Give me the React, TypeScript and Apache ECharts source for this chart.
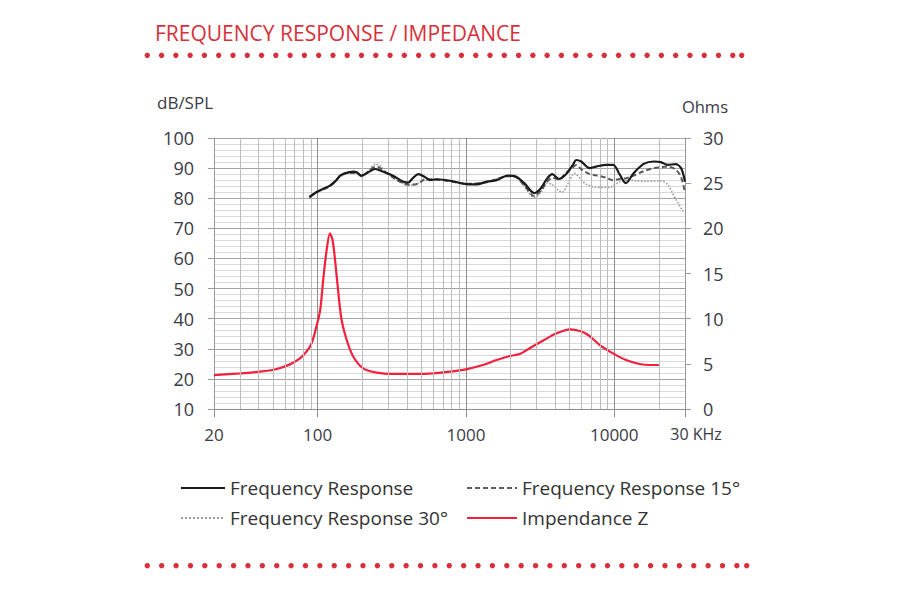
import React, { useEffect, useRef } from 'react';
import * as echarts from 'echarts';

const TITLE = 'FREQUENCY RESPONSE / IMPEDANCE';
const LEFT_AXIS_NAME = 'dB/SPL';
const RIGHT_AXIS_NAME = 'Ohms';
const NAME_FR = 'Frequency Response';
const NAME_FR15 = 'Frequency Response 15°';
const NAME_FR30 = 'Frequency Response 30°';
const NAME_Z = 'Impendance Z';

// Frequency response (on-axis)
const FR_FREQ = [88, 98, 106, 121, 134, 141, 153, 161, 174, 183, 198, 219, 244, 277, 324, 378, 408, 441, 477, 530, 572, 633, 780, 1010, 1180, 1380, 1610, 1910, 2170, 2470, 2890, 3200, 3530, 3820, 4230, 4690, 5270, 5540, 5990, 6820, 7540, 8840, 9830, 10900, 11950, 13500, 15800, 18500, 20600, 22900, 26000, 28200, 30000];
const FR_DB = [80.3, 82, 82.8, 84.2, 86, 87.4, 88.3, 88.6, 88.8, 88.6, 87.5, 88.6, 89.7, 88.8, 87.4, 85.5, 85.2, 86.8, 88, 87, 86, 86.3, 85.8, 84.7, 84.6, 85.5, 86, 87.5, 87.2, 85, 81.7, 83.3, 86.6, 88, 86.4, 87.8, 91.1, 92.7, 92.2, 90, 90.5, 91.1, 91.1, 87.8, 85, 88.3, 91.4, 92.2, 92, 91.1, 91.3, 90, 85.5];

// Frequency response 15°
const FR15_FREQ = [88, 98, 121, 141, 161, 183, 198, 219, 244, 260, 290, 330, 378, 408, 457, 492, 530, 633, 780, 1010, 1380, 1910, 2170, 2470, 2890, 3200, 3530, 3820, 4230, 4690, 5270, 5540, 5990, 6820, 7540, 8840, 9830, 10900, 11950, 13500, 15800, 18500, 20600, 22900, 26000, 28200, 30000];
const FR15_DB = [80.5, 82, 84, 87.2, 88.4, 88.4, 87.3, 88.8, 90.5, 90.2, 88.5, 86.5, 85, 84.5, 84.6, 85.3, 86.3, 86.2, 85.6, 84.8, 85.3, 87.3, 87, 84.3, 80.7, 82.5, 85.5, 86.8, 86.2, 88.2, 90.3, 91, 89.6, 88, 87.6, 86.8, 86, 86.4, 86.6, 87.5, 89, 90, 90.3, 90.5, 89.5, 87, 82];

// Frequency response 30°
const FR30_FREQ = [88, 98, 121, 141, 161, 183, 198, 219, 244, 260, 290, 330, 378, 408, 457, 530, 633, 780, 1010, 1380, 1910, 2170, 2470, 2890, 3200, 3530, 3820, 4230, 4450, 4900, 5400, 5900, 6440, 7200, 8000, 9330, 10900, 12500, 14000, 16300, 20600, 23000, 24500, 26200, 29000, 30000];
const FR30_DB = [80.5, 82, 84, 87, 88.3, 88.3, 87.3, 89, 91.3, 91, 88.5, 86.5, 84.8, 84.3, 84.6, 86, 86, 85.6, 84.8, 85.3, 87.3, 87, 84, 80.2, 82, 85, 84.5, 82.5, 82, 85, 88.3, 86.5, 84.7, 83.8, 83.6, 83.6, 85.5, 86, 85.8, 85.6, 85.8, 84.5, 82, 79.4, 75.8, 75];

// Impedance (ohms)
const Z_FREQ = [20, 30, 41, 53, 65, 76, 84, 91, 98, 104, 109, 115, 121, 126, 131, 138, 145, 157, 174, 203, 250, 324, 465, 602, 780, 1000, 1300, 1610, 1980, 2300, 2690, 3300, 4090, 5020, 5860, 6670, 8000, 9800, 12000, 14800, 17400, 20000];
const Z_OHM = [3.76, 3.95, 4.13, 4.43, 4.94, 5.6, 6.35, 7.27, 9.1, 10.96, 14.3, 17.6, 19.45, 18.7, 16.5, 12.8, 9.85, 7.64, 5.79, 4.5, 4.02, 3.88, 3.88, 3.95, 4.13, 4.39, 4.87, 5.42, 5.87, 6.09, 6.72, 7.56, 8.38, 8.82, 8.63, 8.19, 7.08, 6.16, 5.42, 4.98, 4.87, 4.87];

const FONT = "'Open Sans', 'Noto Sans', sans-serif";
const TEXT_COLOR = '#3a3a46';
const RED = '#d8303a';

function pairs(xs: number[], ys: number[]) {
  return xs.map((x, i) => [x, ys[i]]);
}

function minorFreqs() {
  const out: number[] = [];
  for (let d = 10; d <= 10000; d *= 10) {
    for (let k = 2; k <= 9; k++) {
      const v = k * d;
      if (v > 20 && v < 30000) out.push(v);
    }
  }
  return out;
}

function dotRow(y: number, x0: number, step: number, n: number, extra: number) {
  const els: any[] = [];
  for (let i = 0; i < n; i++) {
    els.push({ type: 'circle', shape: { cx: x0 + i * step, cy: y, r: 2.7 }, style: { fill: RED }, silent: true });
  }
  els.push({ type: 'circle', shape: { cx: extra, cy: y, r: 2.7 }, style: { fill: RED }, silent: true });
  return els;
}

export default function App() {
  const ref = useRef<HTMLDivElement>(null);
  useEffect(() => {
    const chart = echarts.init(ref.current!, null, { renderer: 'svg' });
    const legendBase = {
      orient: 'horizontal',
      padding: 0,
      itemHeight: 14,
      selectedMode: false,
      itemStyle: { opacity: 0 },
      textStyle: { fontFamily: FONT, fontSize: 19, color: '#333', lineHeight: 20 },
    };
    const option: any = {
      animation: false,
      backgroundColor: '#ffffff',
      grid: { left: 214, right: 215, top: 138, bottom: 191, containLabel: false },
      legend: [
        { ...legendBase, data: [NAME_FR], left: 180, top: 478, itemWidth: 44 },
        { ...legendBase, data: [NAME_FR15], left: 466, top: 478, itemWidth: 50 },
        { ...legendBase, data: [NAME_FR30], left: 180, top: 508, itemWidth: 44 },
        { ...legendBase, data: [NAME_Z], left: 466, top: 508, itemWidth: 50 },
      ],
      xAxis: {
        type: 'log',
        logBase: 10,
        min: 20,
        max: 30000,
        axisLine: { show: true, lineStyle: { color: '#8f8f8f' } },
        axisTick: { show: true, length: 8, lineStyle: { color: '#8f8f8f' } },
        splitLine: { show: true, lineStyle: { color: '#8f8f8f', width: 1 } },
        axisLabel: {
          showMinLabel: true,
          showMaxLabel: true,
          margin: 17,
          fontSize: 17,
          fontFamily: FONT,
          color: TEXT_COLOR,
          formatter: (v: number) => {
            const r = Math.round(v);
            if (r >= 29000) return '{k|30 KHz}';
            return String(r);
          },
          rich: { k: { fontSize: 16, fontFamily: FONT, color: TEXT_COLOR, padding: [0, 0, 0, 22] } },
        },
      },
      yAxis: [
        {
          type: 'value',
          min: 10,
          max: 100,
          interval: 10,
          position: 'left',
          axisLine: { show: true, lineStyle: { color: '#9a9a9a' } },
          axisTick: { show: true, length: 6, lineStyle: { color: '#9a9a9a' } },
          axisLabel: { margin: 20, fontSize: 18, fontFamily: FONT, color: TEXT_COLOR },
          splitLine: { show: true, lineStyle: { color: '#a3a3a3' } },
          minorTick: { show: false, splitNumber: 5 },
          minorSplitLine: { show: true, lineStyle: { color: '#d9d9d9' } },
        },
        {
          type: 'value',
          min: 0,
          max: 30,
          interval: 5,
          position: 'right',
          axisLine: { show: true, lineStyle: { color: '#9a9a9a' } },
          axisTick: { show: true, length: 6, lineStyle: { color: '#9a9a9a' } },
          axisLabel: { margin: 18, fontSize: 18, fontFamily: FONT, color: TEXT_COLOR },
          splitLine: { show: false },
        },
      ],
      series: [
        {
          name: 'grid',
          type: 'line',
          data: [],
          silent: true,
          z: 1,
          markLine: {
            silent: true,
            symbol: ['none', 'none'],
            label: { show: false },
            lineStyle: { color: '#bcbcbc', type: 'solid', width: 1 },
            data: minorFreqs().map((v) => ({ xAxis: v })),
          },
        },
        {
          name: NAME_Z,
          type: 'line',
          yAxisIndex: 1,
          data: pairs(Z_FREQ, Z_OHM),
          smooth: 0.3,
          symbol: 'none',
          z: 3,
          color: '#f41f3d',
          lineStyle: { color: '#f41f3d', width: 2.2 },
        },
        {
          name: NAME_FR30,
          type: 'line',
          data: pairs(FR30_FREQ, FR30_DB),
          smooth: 0.3,
          symbol: 'none',
          z: 4,
          color: '#9a9a9a',
          lineStyle: { color: '#9a9a9a', width: 1.6, type: 'dotted' },
        },
        {
          name: NAME_FR15,
          type: 'line',
          data: pairs(FR15_FREQ, FR15_DB),
          smooth: 0.3,
          symbol: 'none',
          z: 5,
          color: '#5a5a5a',
          lineStyle: { color: '#5a5a5a', width: 2, type: [5, 3] },
        },
        {
          name: NAME_FR,
          type: 'line',
          data: pairs(FR_FREQ, FR_DB),
          smooth: 0.3,
          symbol: 'none',
          z: 6,
          color: '#1a1a1a',
          lineStyle: { color: '#1a1a1a', width: 2.2 },
        },
      ],
      graphic: [
        {
          type: 'text',
          x: 155,
          y: 33,
          style: { text: TITLE, fontSize: 21, fontFamily: FONT, fill: RED, textVerticalAlign: 'middle', textAlign: 'left' },
          silent: true,
        },
        {
          type: 'text',
          x: 157,
          y: 102,
          style: { text: LEFT_AXIS_NAME, fontSize: 17, fontFamily: FONT, fill: TEXT_COLOR, textVerticalAlign: 'middle', textAlign: 'left' },
          silent: true,
        },
        {
          type: 'text',
          x: 728,
          y: 106,
          style: { text: RIGHT_AXIS_NAME, fontSize: 16.5, fontFamily: FONT, fill: TEXT_COLOR, textVerticalAlign: 'middle', textAlign: 'right' },
          silent: true,
        },
        ...dotRow(55.3, 147.3, 14.28, 42, 741.7),
        ...dotRow(565.7, 147.3, 14.38, 42, 746.7),
      ],
    };
    chart.setOption(option);
    return () => chart.dispose();
  }, []);
  return (
    <div
      ref={ref}
      style={{ position: 'absolute', left: 0, top: 0, width: 900, height: 600, background: '#fff' }}
    />
  );
}
